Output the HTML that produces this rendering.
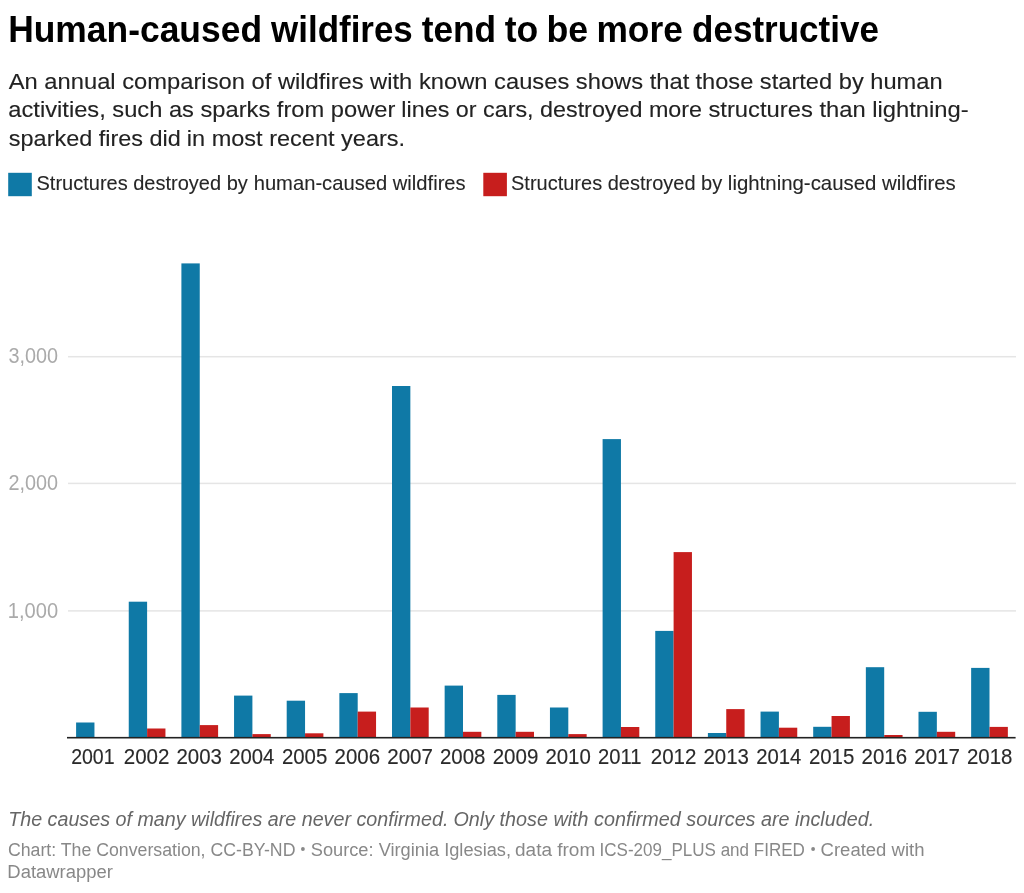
<!DOCTYPE html>
<html><head><meta charset="utf-8"><title>Human-caused wildfires tend to be more destructive</title>
<style>
html,body{margin:0;padding:0;background:#fff;}
body{width:1024px;height:893px;overflow:hidden;font-family:"Liberation Sans",sans-serif;}
svg{display:block;will-change:transform;}
text{font-family:"Liberation Sans",sans-serif;}
</style></head><body>
<svg width="1024" height="893" viewBox="0 0 1024 893">
<rect width="1024" height="893" fill="#fff"/>
<rect x="8.2" y="172.8" width="23.6" height="23.4" fill="#0f79a6"/>
<rect x="483.3" y="172.8" width="23.6" height="23.4" fill="#c71e1d"/>
<rect x="68" y="355.95" width="948" height="1.5" fill="#e5e5e5"/>
<rect x="68" y="482.65" width="948" height="1.5" fill="#e5e5e5"/>
<rect x="68" y="610.15" width="948" height="1.5" fill="#e5e5e5"/>
<rect x="76.10" y="722.5" width="18.35" height="15.50" fill="#0f79a6"/>
<rect x="128.75" y="601.7" width="18.35" height="136.30" fill="#0f79a6"/>
<rect x="147.10" y="728.5" width="18.35" height="9.50" fill="#c71e1d"/>
<rect x="181.40" y="263.4" width="18.35" height="474.60" fill="#0f79a6"/>
<rect x="199.75" y="725.1" width="18.35" height="12.90" fill="#c71e1d"/>
<rect x="234.05" y="695.6" width="18.35" height="42.40" fill="#0f79a6"/>
<rect x="252.40" y="734.1" width="18.35" height="3.90" fill="#c71e1d"/>
<rect x="286.70" y="700.7" width="18.35" height="37.30" fill="#0f79a6"/>
<rect x="305.05" y="733.3" width="18.35" height="4.70" fill="#c71e1d"/>
<rect x="339.35" y="693.1" width="18.35" height="44.90" fill="#0f79a6"/>
<rect x="357.70" y="711.6" width="18.35" height="26.40" fill="#c71e1d"/>
<rect x="392.00" y="386.0" width="18.35" height="352.00" fill="#0f79a6"/>
<rect x="410.35" y="707.5" width="18.35" height="30.50" fill="#c71e1d"/>
<rect x="444.65" y="685.6" width="18.35" height="52.40" fill="#0f79a6"/>
<rect x="463.00" y="731.8" width="18.35" height="6.20" fill="#c71e1d"/>
<rect x="497.30" y="694.9" width="18.35" height="43.10" fill="#0f79a6"/>
<rect x="515.65" y="731.8" width="18.35" height="6.20" fill="#c71e1d"/>
<rect x="549.95" y="707.5" width="18.35" height="30.50" fill="#0f79a6"/>
<rect x="568.30" y="734.1" width="18.35" height="3.90" fill="#c71e1d"/>
<rect x="602.60" y="439.1" width="18.35" height="298.90" fill="#0f79a6"/>
<rect x="620.95" y="727.0" width="18.35" height="11.00" fill="#c71e1d"/>
<rect x="655.25" y="630.9" width="18.35" height="107.10" fill="#0f79a6"/>
<rect x="673.60" y="552.1" width="18.35" height="185.90" fill="#c71e1d"/>
<rect x="707.90" y="733.0" width="18.35" height="5.00" fill="#0f79a6"/>
<rect x="726.25" y="709.1" width="18.35" height="28.90" fill="#c71e1d"/>
<rect x="760.55" y="711.6" width="18.35" height="26.40" fill="#0f79a6"/>
<rect x="778.90" y="727.7" width="18.35" height="10.30" fill="#c71e1d"/>
<rect x="813.20" y="726.8" width="18.35" height="11.20" fill="#0f79a6"/>
<rect x="831.55" y="716.0" width="18.35" height="22.00" fill="#c71e1d"/>
<rect x="865.85" y="667.2" width="18.35" height="70.80" fill="#0f79a6"/>
<rect x="884.20" y="735.0" width="18.35" height="3.00" fill="#c71e1d"/>
<rect x="918.50" y="711.8" width="18.35" height="26.20" fill="#0f79a6"/>
<rect x="936.85" y="731.8" width="18.35" height="6.20" fill="#c71e1d"/>
<rect x="971.15" y="667.9" width="18.35" height="70.10" fill="#0f79a6"/>
<rect x="989.50" y="726.9" width="18.35" height="11.10" fill="#c71e1d"/>
<rect x="67" y="736.9" width="948.6" height="1.6" fill="#222"/>
<circle cx="302.9" cy="849.0" r="1.9" fill="#888"/>
<circle cx="813.1" cy="849.0" r="1.9" fill="#888"/>
<text x="8.14" y="41.7" font-size="37.5" font-weight="bold" fill="#000" textLength="253.9" lengthAdjust="spacingAndGlyphs">Human-caused</text>
<text x="271.05" y="41.7" font-size="37.5" font-weight="bold" fill="#000" textLength="141.76" lengthAdjust="spacingAndGlyphs">wildfires</text>
<text x="421.63" y="41.7" font-size="37.5" font-weight="bold" fill="#000" textLength="74.55" lengthAdjust="spacingAndGlyphs">tend</text>
<text x="504.73" y="41.7" font-size="37.5" font-weight="bold" fill="#000" textLength="33.5" lengthAdjust="spacingAndGlyphs">to</text>
<text x="546.52" y="41.7" font-size="37.5" font-weight="bold" fill="#000" textLength="41.69" lengthAdjust="spacingAndGlyphs">be</text>
<text x="596.44" y="41.7" font-size="37.5" font-weight="bold" fill="#000" textLength="86.39" lengthAdjust="spacingAndGlyphs">more</text>
<text x="692.0" y="41.7" font-size="37.5" font-weight="bold" fill="#000" textLength="186.96" lengthAdjust="spacingAndGlyphs">destructive</text>
<text x="8.7" y="88.8" font-size="22.7" fill="#222" stroke="#222" stroke-width="0.12" textLength="354.97" lengthAdjust="spacingAndGlyphs">An annual comparison of wildfires</text>
<text x="370.1" y="88.8" font-size="22.7" fill="#222" stroke="#222" stroke-width="0.12" textLength="319.2" lengthAdjust="spacingAndGlyphs">with known causes shows that</text>
<text x="695.44" y="88.8" font-size="22.7" fill="#222" stroke="#222" stroke-width="0.12" textLength="247.18" lengthAdjust="spacingAndGlyphs">those started by human</text>
<text x="8.36" y="117.1" font-size="22.7" fill="#222" stroke="#222" stroke-width="0.12" textLength="386.96" lengthAdjust="spacingAndGlyphs">activities, such as sparks from power</text>
<text x="401.36" y="117.1" font-size="22.7" fill="#222" stroke="#222" stroke-width="0.12" textLength="300.72" lengthAdjust="spacingAndGlyphs">lines or cars, destroyed more</text>
<text x="708.48" y="117.1" font-size="22.7" fill="#222" stroke="#222" stroke-width="0.12" textLength="260.21" lengthAdjust="spacingAndGlyphs">structures than lightning-</text>
<text x="8.88" y="145.6" font-size="22.7" fill="#222" stroke="#222" stroke-width="0.12" textLength="171.93" lengthAdjust="spacingAndGlyphs">sparked fires did</text>
<text x="186.84" y="145.6" font-size="22.7" fill="#222" stroke="#222" stroke-width="0.12" textLength="218.31" lengthAdjust="spacingAndGlyphs">in most recent years.</text>
<text x="36.53" y="189.6" font-size="20.6" fill="#262626" stroke="#262626" stroke-width="0.1" textLength="211.26" lengthAdjust="spacingAndGlyphs">Structures destroyed by</text>
<text x="253.68" y="189.6" font-size="20.6" fill="#262626" stroke="#262626" stroke-width="0.1" textLength="212.01" lengthAdjust="spacingAndGlyphs">human-caused wildfires</text>
<text x="511.03" y="189.6" font-size="20.6" fill="#262626" stroke="#262626" stroke-width="0.1" textLength="211.16" lengthAdjust="spacingAndGlyphs">Structures destroyed by</text>
<text x="727.86" y="189.6" font-size="20.6" fill="#262626" stroke="#262626" stroke-width="0.1" textLength="227.93" lengthAdjust="spacingAndGlyphs">lightning-caused wildfires</text>
<text x="8.49" y="363.3" font-size="21.8" fill="#aaa" textLength="49.64" lengthAdjust="spacingAndGlyphs">3,000</text>
<text x="8.49" y="490.0" font-size="21.8" fill="#aaa" textLength="49.64" lengthAdjust="spacingAndGlyphs">2,000</text>
<text x="7.78" y="617.5" font-size="21.8" fill="#aaa" textLength="50.35" lengthAdjust="spacingAndGlyphs">1,000</text>
<text x="71.15" y="764.1" font-size="21.6" fill="#2a2a2a" stroke="#2a2a2a" stroke-width="0.15" textLength="43.45" lengthAdjust="spacingAndGlyphs">2001</text>
<text x="123.8" y="764.1" font-size="21.6" fill="#2a2a2a" stroke="#2a2a2a" stroke-width="0.15" textLength="45.64" lengthAdjust="spacingAndGlyphs">2002</text>
<text x="176.51" y="764.1" font-size="21.6" fill="#2a2a2a" stroke="#2a2a2a" stroke-width="0.15" textLength="45.4" lengthAdjust="spacingAndGlyphs">2003</text>
<text x="229.21" y="764.1" font-size="21.6" fill="#2a2a2a" stroke="#2a2a2a" stroke-width="0.15" textLength="45.15" lengthAdjust="spacingAndGlyphs">2004</text>
<text x="281.91" y="764.1" font-size="21.6" fill="#2a2a2a" stroke="#2a2a2a" stroke-width="0.15" textLength="45.4" lengthAdjust="spacingAndGlyphs">2005</text>
<text x="334.61" y="764.1" font-size="21.6" fill="#2a2a2a" stroke="#2a2a2a" stroke-width="0.15" textLength="45.4" lengthAdjust="spacingAndGlyphs">2006</text>
<text x="387.3" y="764.1" font-size="21.6" fill="#2a2a2a" stroke="#2a2a2a" stroke-width="0.15" textLength="45.64" lengthAdjust="spacingAndGlyphs">2007</text>
<text x="440.01" y="764.1" font-size="21.6" fill="#2a2a2a" stroke="#2a2a2a" stroke-width="0.15" textLength="45.4" lengthAdjust="spacingAndGlyphs">2008</text>
<text x="492.7" y="764.1" font-size="21.6" fill="#2a2a2a" stroke="#2a2a2a" stroke-width="0.15" textLength="45.64" lengthAdjust="spacingAndGlyphs">2009</text>
<text x="545.41" y="764.1" font-size="21.6" fill="#2a2a2a" stroke="#2a2a2a" stroke-width="0.15" textLength="45.4" lengthAdjust="spacingAndGlyphs">2010</text>
<text x="598.12" y="764.1" font-size="21.6" fill="#2a2a2a" stroke="#2a2a2a" stroke-width="0.15" textLength="43.41" lengthAdjust="spacingAndGlyphs">2011</text>
<text x="650.8" y="764.1" font-size="21.6" fill="#2a2a2a" stroke="#2a2a2a" stroke-width="0.15" textLength="45.64" lengthAdjust="spacingAndGlyphs">2012</text>
<text x="703.51" y="764.1" font-size="21.6" fill="#2a2a2a" stroke="#2a2a2a" stroke-width="0.15" textLength="45.4" lengthAdjust="spacingAndGlyphs">2013</text>
<text x="756.21" y="764.1" font-size="21.6" fill="#2a2a2a" stroke="#2a2a2a" stroke-width="0.15" textLength="45.15" lengthAdjust="spacingAndGlyphs">2014</text>
<text x="808.91" y="764.1" font-size="21.6" fill="#2a2a2a" stroke="#2a2a2a" stroke-width="0.15" textLength="45.4" lengthAdjust="spacingAndGlyphs">2015</text>
<text x="861.61" y="764.1" font-size="21.6" fill="#2a2a2a" stroke="#2a2a2a" stroke-width="0.15" textLength="45.4" lengthAdjust="spacingAndGlyphs">2016</text>
<text x="914.3" y="764.1" font-size="21.6" fill="#2a2a2a" stroke="#2a2a2a" stroke-width="0.15" textLength="45.64" lengthAdjust="spacingAndGlyphs">2017</text>
<text x="967.01" y="764.1" font-size="21.6" fill="#2a2a2a" stroke="#2a2a2a" stroke-width="0.15" textLength="45.4" lengthAdjust="spacingAndGlyphs">2018</text>
<text x="8.18" y="825.6" font-size="20.5" font-style="italic" fill="#666" textLength="440.26" lengthAdjust="spacingAndGlyphs">The causes of many wildfires are never confirmed.</text>
<text x="453.44" y="825.6" font-size="20.5" font-style="italic" fill="#666" textLength="420.72" lengthAdjust="spacingAndGlyphs">Only those with confirmed sources are included.</text>
<text x="7.92" y="856" font-size="18" fill="#888" textLength="287.55" lengthAdjust="spacingAndGlyphs">Chart: The Conversation, CC-BY-ND</text>
<text x="310.74" y="856" font-size="18" fill="#888" textLength="200.31" lengthAdjust="spacingAndGlyphs">Source: Virginia Iglesias,</text>
<text x="515.01" y="856" font-size="18" fill="#888" textLength="80.26" lengthAdjust="spacingAndGlyphs">data from</text>
<text x="599.55" y="856" font-size="18" fill="#888" textLength="205.27" lengthAdjust="spacingAndGlyphs">ICS-209_PLUS and FIRED</text>
<text x="820.57" y="856" font-size="18" fill="#888" textLength="103.92" lengthAdjust="spacingAndGlyphs">Created with</text>
<text x="7.37" y="877.8" font-size="18" fill="#888" textLength="105.45" lengthAdjust="spacingAndGlyphs">Datawrapper</text>
</svg>
</body></html>
